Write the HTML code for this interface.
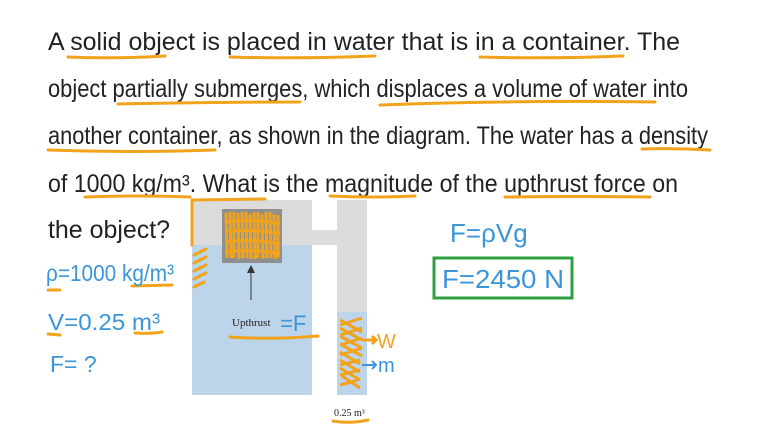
<!DOCTYPE html>
<html><head><meta charset="utf-8"><style>
html,body{margin:0;padding:0;background:#fff;width:760px;height:427px;overflow:hidden}
svg{display:block}
.t{font-family:"Liberation Sans",sans-serif;font-size:25px;fill:#222}
.b{font-family:"Liberation Sans",sans-serif;fill:#3b95d8}
.u{stroke:#f2a31c;stroke-width:3;fill:none;stroke-linecap:round}
</style></head><body>
<svg width="760" height="427" viewBox="0 0 760 427">
<g class="t">
<text x="48" y="50" textLength="632" lengthAdjust="spacingAndGlyphs">A solid object is placed in water that is in a container. The</text>
<text x="48" y="97" textLength="640" lengthAdjust="spacingAndGlyphs">object partially submerges, which displaces a volume of water into</text>
<text x="48" y="144" textLength="660" lengthAdjust="spacingAndGlyphs">another container, as shown in the diagram. The water has a density</text>
<text x="48" y="192" textLength="630" lengthAdjust="spacingAndGlyphs">of 1000 kg/m³. What is the magnitude of the upthrust force on</text>
<text x="48" y="238" textLength="122" lengthAdjust="spacingAndGlyphs">the object?</text>
</g>
<rect x="192" y="200" width="120" height="195" fill="#dcdcdc"/>
<rect x="192" y="245" width="120" height="150" fill="#bdd5ea"/>
<rect x="312" y="230" width="25" height="15" fill="#dcdcdc"/>
<rect x="337" y="200" width="30" height="195" fill="#dcdcdc"/>
<rect x="337" y="312" width="30" height="83" fill="#bdd5ea"/>
<rect x="222" y="209" width="60" height="54" fill="#8f8f8f"/>
<g class="u">
<path d="M68 57 Q115 59 165 56"/><path d="M230 57 Q300 59 375 56"/><path d="M480 57 Q550 59 623 56"/>
<path d="M118 104 Q210 102 300 102"/><path d="M380 105 Q520 100 655 102"/>
<path d="M48 150 Q130 153 215 150"/><path d="M642 149 Q675 148 710 150"/>
<path d="M85 197 Q140 195 190 197"/><path d="M330 196 Q372 198 415 196"/><path d="M505 197 Q580 196 650 197"/>
<path d="M192 200 L192 245"/><path d="M192 200 L265 199"/>
<path d="M194 255 l12 -6 M194 263 l12 -6 M194 271 l12 -6 M194 279 l12 -6 M194 287 l10 -5"/>
<path d="M230 337 Q270 340 318 336"/>
<path d="M333 421 Q350 424 368 420"/>
<path d="M48 290 l12 0 M48 334 l12 1 M132 286 l40 -1 M135 333 q15 1 27 -1"/>
</g>
<g stroke="#f2a31c" stroke-width="3" fill="none">
<path d="M226 213 L227 258 M230 212 L231 258 M234 212 L234 258 M238 213 L239 259 M242 212 L243 258 M246 212 L247 258 M250 214 L251 259 M254 212 L255 259 M258 212 L258 258 M262 214 L263 259 M266 212 L267 258 M270 212 L271 258 M274 214 L275 259 M278 215 L278 258 M226 222 Q250 218 280 224 M226 232 Q250 228 280 234 M226 242 Q250 238 280 244 M225 252 Q250 248 280 254"/>
<path d="M340 320 L362 332 M340 328 L362 340 M340 336 L362 348 M340 344 L362 356 M340 352 L360 364 M340 360 L360 372 M340 368 L360 380 M342 376 L360 388 M340 325 L362 318 M340 335 L362 328 M340 345 L362 338 M340 355 L362 348 M340 365 L360 360 M340 375 L360 370 M340 385 L358 380"/>
<path d="M362 340 l14 0 M372 336 l4 4 l-4 4"/>
</g>
<path d="M362 365 l14 0 M372 361 l4 4 l-4 4" stroke="#3b95d8" stroke-width="2" fill="none"/>
<text x="377" y="348" font-family="Liberation Sans,sans-serif" font-size="20" fill="#f2a31c">W</text>
<text x="378" y="372" class="b" font-size="20">m</text>
<line x1="251" y1="272" x2="251" y2="300" stroke="#333" stroke-width="1"/>
<path d="M247 273 L251 265 L255 273 Z" fill="#333"/>
<text x="232" y="326" font-family="Liberation Serif,serif" font-size="11" fill="#222">Upthrust</text>
<text x="280" y="331" class="b" font-size="22">=F</text>
<text x="334" y="416" font-family="Liberation Serif,serif" font-size="10" fill="#222">0.25 m³</text>
<text x="46" y="281" class="b" font-size="23" textLength="128" lengthAdjust="spacingAndGlyphs">ρ=1000 kg/m³</text>
<text x="48" y="330" class="b" font-size="23" textLength="112" lengthAdjust="spacingAndGlyphs">V=0.25 m³</text>
<text x="50" y="372" class="b" font-size="23">F= ?</text>
<text x="450" y="242" class="b" font-size="26">F=ρVg</text>
<rect x="434" y="258" width="138" height="40" fill="none" stroke="#2ea043" stroke-width="3"/>
<text x="442" y="288" class="b" font-size="26" textLength="122" lengthAdjust="spacingAndGlyphs">F=2450 N</text>
</svg>
</body></html>
